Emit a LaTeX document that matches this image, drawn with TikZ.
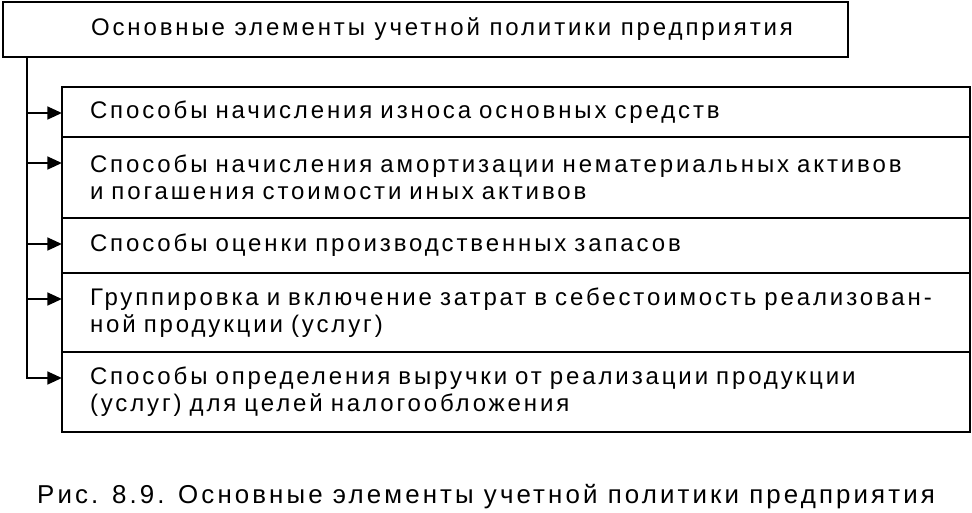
\documentclass[tikz,border=0pt]{standalone}
\usepackage{fontspec}
\setmainfont{Liberation Sans}[LetterSpace=12]
\usetikzlibrary{positioning,arrows.meta}

\tikzset{every picture/.style={line width=2pt}}
\tikzset{
  headbox/.style={draw, anchor=north west, outer sep=0pt, minimum width=633.75pt, minimum height=41.25pt},
  elembox/.style={draw, anchor=north west, outer sep=0pt, minimum width=681pt, text width=639pt, inner xsep=21pt, align=left, font=\fontsize{18}{20.25}\selectfont},
  feed/.style={-{Triangle[length=11pt,width=9.5pt]}}
}

\begin{document}
\begin{tikzpicture}[x=0.75pt,y=0.75pt,yscale=-1,xscale=1]
\useasboundingbox (0,0) rectangle (972,512);

% Head Box
\node [headbox] (top) at (3,2) {};
% Text Node
\node [anchor=west, inner sep=0pt, font=\fontsize{18}{20.25}\selectfont] (toptxt) at ([xshift=65pt]top.west) {Основные элементы учетной политики предприятия};

% Element Boxes
\node [elembox, minimum height=37.5pt] (b1) at (62,87) {Способы начисления износа основных средств};
\node [elembox, minimum height=60.75pt, below=0pt of b1.south west, anchor=north west] (b2) {Способы начисления амортизации нематериальных активов\\и погашения стоимости иных активов};
\node [elembox, minimum height=41.25pt, below=0pt of b2.south west, anchor=north west] (b3) {Способы оценки производственных запасов};
\node [elembox, minimum height=59.25pt, below=0pt of b3.south west, anchor=north west] (b4) {Группировка и включение затрат в себестоимость реализован-\\ной продукции (услуг)};
\node [elembox, minimum height=60pt, below=0pt of b4.south west, anchor=north west] (b5) {Способы определения выручки от реализации продукции\\(услуг) для целей налогообложения};

% Trunk and arrows
\coordinate (trunk) at ([xshift=18pt]top.south west);
\foreach \i in {1,...,5} {
  \coordinate (a\i) at ([yshift=19.5pt]b\i.north west);
  \draw [feed] (trunk |- a\i) -- (a\i);
}
\draw (trunk) -- ([yshift=1pt]trunk |- a5);

% Caption
\node [anchor=center, inner sep=0pt, font=\fontsize{19.4}{22}\selectfont] (cap) at (486,497) {Рис. 8.9. Основные элементы учетной политики предприятия};

\end{tikzpicture}
\end{document}
